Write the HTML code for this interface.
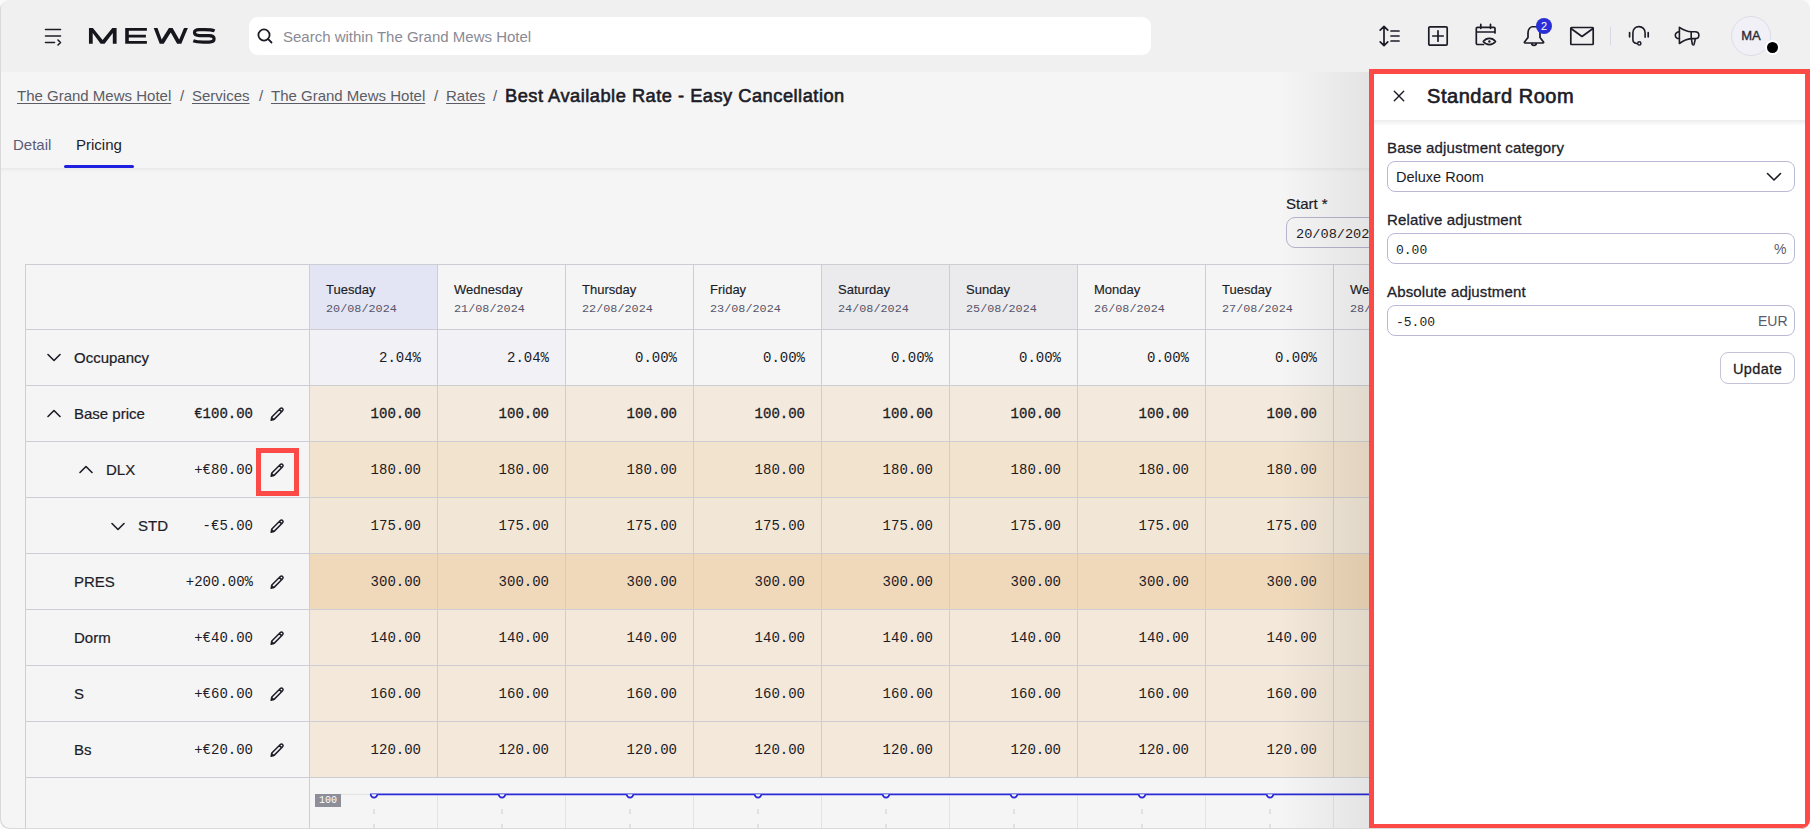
<!DOCTYPE html>
<html><head><meta charset="utf-8"><style>
*{box-sizing:border-box;margin:0;padding:0}
html,body{width:1810px;height:829px;overflow:hidden;background:#fafafa}
body{position:relative;font-family:"Liberation Sans",sans-serif;color:#1c1c27}
.a{position:absolute}
.mono{font-family:"Liberation Mono",monospace}
.frame{position:absolute;left:0;top:0;width:1810px;height:829px;background:#f0f0f0;border-radius:9px;overflow:hidden}
.fb{position:absolute;left:0;top:0;width:1810px;height:829px;border-radius:9px;box-shadow:inset 1px -1px 0 #d9d9d9;pointer-events:none}
.content{position:absolute;left:0;top:72px;width:1810px;height:757px;background:#f5f5f5}
.ico{position:absolute;fill:none;stroke:#1c1c27;stroke-width:1.6;stroke-linecap:round;stroke-linejoin:round}
.bc{position:absolute;top:86px;font-size:15px;color:#5c5c66;text-decoration:underline;text-underline-offset:2px;text-decoration-thickness:1px;white-space:nowrap;line-height:20px}
.sl{position:absolute;top:86px;font-size:15px;color:#5c5c66;line-height:20px}
.cell{position:absolute;height:56px}
.lbl{position:absolute;font-size:15px;line-height:18px;white-space:nowrap;-webkit-text-stroke:0.2px #1c1c27}
.num{position:absolute;font-family:"Liberation Mono",monospace;font-size:14px;line-height:18px;white-space:nowrap;text-align:right}
.vl{position:absolute;width:1px;background:#cdcdd3}
.hl{position:absolute;height:1px;background:#cdcdd3}
.dayn{position:absolute;font-size:13px;line-height:16px;white-space:nowrap;-webkit-text-stroke:0.15px #1c1c27}
.dayd{position:absolute;font-family:"Liberation Mono",monospace;font-size:11.8px;line-height:16px;color:#56566a;white-space:nowrap}
</style></head>
<body>
<div class="frame">
<svg class="ico" style="left:43px;top:27px" width="20" height="20" viewBox="0 0 20 20"><path d="M2.5 2.5h15M2.5 9h15M2.5 15.5h9M15 13l2.5 2.5L15 18"/></svg>
<svg class="a" style="left:88px;top:28px" width="130" height="16" viewBox="0 0 130 16"><g fill="#16161d">
<path d="M0.95 0H4.9L14.6 12.1L24.3 0H28.6V15.8H24.8V5L16.6 15.8H12.6L4.7 5V15.8H0.95Z"/>
<path d="M37.2 0H58.9V2.8H40.8V6.8H57.9V9.5H40.8V13.1H58.9V15.8H37.2Z"/>
<path d="M65.7 0H69.5L73.7 11.5L80.9 0H84.6L91.2 11.5L96 0H99.9L93.3 15.8H89.1L82.75 4.5L75.7 15.8H71.7Z"/>
</g><path d="M126.6 2.9C124.6 2 120.5 1.6 116.5 1.6H111.5C107.5 1.6 106.5 3 106.5 4.6C106.5 6.4 108 7.55 111.5 7.55H121C125 7.55 126.1 9 126.1 10.8C126.1 12.7 124.8 14.1 121 14.1H115.5C111 14.1 107.5 13.7 105.3 12.8" fill="none" stroke="#16161d" stroke-width="3.2"/></svg>
<div class="a" style="left:249px;top:17px;width:902px;height:38px;background:#fff;border-radius:9px"></div>
<svg class="ico" style="left:256px;top:27px" width="18" height="18" viewBox="0 0 18 18" style="stroke-width:1.8"><circle cx="8" cy="8" r="5.6" stroke-width="1.8"/><path d="M12.2 12.2l3.3 3.3" stroke-width="1.8"/></svg>
<div class="a" style="left:283px;top:28px;font-size:15px;line-height:18px;color:#8a8a94;white-space:nowrap">Search within The Grand Mews Hotel</div>
<svg class="ico" style="left:1378px;top:25px" width="24" height="22" viewBox="0 0 24 22"><path d="M6 1.5v19M2.2 5.2L6 1.4l3.8 3.8M2.2 16.8L6 20.6l3.8-3.8M13 6h8M13 11h8M13 16h8" stroke-width="1.7"/></svg>
<svg class="ico" style="left:1427px;top:25px" width="22" height="22" viewBox="0 0 22 22"><rect x="1.8" y="1.8" width="18.4" height="18.4" rx="1.2" stroke-width="1.7"/><path d="M11 5.8v10.4M5.8 11h10.4" stroke-width="1.7"/></svg>
<svg class="ico" style="left:1474px;top:23px" width="24" height="24" viewBox="0 0 24 24"><path d="M9.5 21.5H3.5a1.2 1.2 0 0 1-1.2-1.2V5.5a1.2 1.2 0 0 1 1.2-1.2h16.3a1.2 1.2 0 0 1 1.2 1.2v4.5M2.4 9h18.5M6.8 1.3v4M16.5 1.3v4" stroke-width="1.7"/><path d="M9.3 18.5c3.2-4.2 9-4.2 12.2 0c-3.2 4.2-9 4.2-12.2 0z" stroke-width="1.7"/><circle cx="15.4" cy="18.5" r="1.2" fill="#1c1c27" stroke="none"/></svg>
<svg class="ico" style="left:1522px;top:24px" width="24" height="24" viewBox="0 0 24 24"><path d="M12 2.5c-3.8 0-6 2.8-6 6.5v4.5l-3.5 4.6c-0.3 0.4 0 0.9 0.5 0.9h18c0.5 0 0.8-0.5 0.5-0.9L18 13.5V9c0-3.7-2.2-6.5-6-6.5zM9.7 19.2c0 1.2 1 2.2 2.3 2.2s2.3-1 2.3-2.2" stroke-width="1.7"/></svg>
<div class="a" style="left:1536px;top:18px;width:16px;height:16px;border-radius:8px;background:#2b2fd8;color:#fff;font-size:11px;line-height:16px;text-align:center;font-weight:400">2</div>
<svg class="ico" style="left:1569px;top:25px" width="26" height="22" viewBox="0 0 26 22"><rect x="1.8" y="2.5" width="22.4" height="17" rx="0.8" stroke-width="1.7"/><path d="M2 3.5l11 8 11-8" stroke-width="1.7"/></svg>
<div class="a" style="left:1610px;top:27px;width:1px;height:18px;background:#d8d8e4"></div>
<svg class="ico" style="left:1627px;top:24px" width="24" height="24" viewBox="0 0 24 24"><path d="M2.6 8.7v4.1M21.2 8.7v4.1" stroke-width="1.7"/><path d="M18.1 13.2V9C18.1 5.2 15.6 2.6 12 2.6S5.9 5.2 5.9 9V15.8C5.9 17.8 6.9 19 9.6 19.5" stroke-width="1.6"/><circle cx="12.3" cy="19.4" r="1.6" stroke-width="1.5"/></svg>
<svg class="ico" style="left:1674px;top:24px" width="26" height="24" viewBox="0 0 26 24"><path d="M5.4 7.8C3 7.8 1.3 9.3 1.3 11.15S3 14.5 5.4 14.5" stroke-width="1.6"/><path d="M5.4 3.3V19.5C8.5 17.2 12.5 14.8 17.2 14.6V7.7C12.5 7.5 8.5 5.3 5.4 3.3Z" stroke-width="1.6"/><path d="M17.2 7.7H21C23.3 7.7 24.9 9.3 24.9 11.15S23.3 14.6 21 14.6H17.2M17.4 14.8L18.3 20.2C18.5 21.2 19.8 21.2 20.1 20.2L21.3 15" stroke-width="1.6"/></svg>
<div class="a" style="left:1731px;top:16px;width:40px;height:40px;border-radius:20px;background:#f0f0f6;border:1px solid #dcdcea;font-size:13px;line-height:38px;text-align:center;color:#2a2a35;-webkit-text-stroke:0.35px #2a2a35">MA</div>
<div class="a" style="left:1765px;top:40px;width:15px;height:15px;border-radius:8px;background:#000;border:2px solid #fff"></div>
<div class="content">
</div>
<div class="bc" style="left:17px">The Grand Mews Hotel</div>
<div class="bc" style="left:192px">Services</div>
<div class="bc" style="left:271px">The Grand Mews Hotel</div>
<div class="bc" style="left:446px">Rates</div>
<div class="sl" style="left:180px">/</div>
<div class="sl" style="left:259px">/</div>
<div class="sl" style="left:434px">/</div>
<div class="sl" style="left:493px">/</div>
<div class="a" style="left:505px;top:85px;font-size:18.25px;line-height:22px;letter-spacing:0.5px;-webkit-text-stroke:0.6px #1c1c27;white-space:nowrap;color:#1c1c27">Best Available Rate - Easy Cancellation</div>
<div class="a" style="left:13px;top:136px;font-size:15px;line-height:18px;color:#5b5b78">Detail</div>
<div class="a" style="left:76px;top:136px;font-size:15px;line-height:18px;color:#1c1c27">Pricing</div>
<div class="a" style="left:1px;top:168px;width:1809px;height:4px;background:linear-gradient(#e9e9e9,rgba(245,245,245,0))"></div>
<div class="a" style="left:64px;top:165px;width:70px;height:3px;border-radius:2px;background:#1f1fe0"></div>
<div class="a" style="left:1286px;top:195px;font-size:15px;line-height:18px;color:#1c1c27;-webkit-text-stroke:0.2px #1c1c27">Start *</div>
<div class="a" style="left:1286px;top:217px;width:200px;height:31px;border:1px solid #b4b4cc;border-radius:9px"></div>
<div class="a mono" style="left:1296px;top:226px;font-size:13.6px;line-height:18px">20/08/2024</div>
<div class="a" style="left:309px;top:264px;width:128px;height:65px;background:#e4e5f4"></div>
<div class="a" style="left:821px;top:264px;width:128px;height:65px;background:#ebebee"></div>
<div class="a" style="left:949px;top:264px;width:128px;height:65px;background:#ebebee"></div>
<div class="a" style="left:309px;top:329px;width:128px;height:56px;background:#f1f1f6"></div>
<div class="a" style="left:437px;top:329px;width:128px;height:56px;background:#f1f1f6"></div>
<div class="a" style="left:309px;top:385px;width:1152px;height:56px;background:#f3eadd"></div>
<div class="a" style="left:309px;top:441px;width:1152px;height:56px;background:#f2e3ce"></div>
<div class="a" style="left:309px;top:497px;width:1152px;height:56px;background:#f2e7d7"></div>
<div class="a" style="left:309px;top:553px;width:1152px;height:56px;background:#f0d9bb"></div>
<div class="a" style="left:309px;top:609px;width:1152px;height:56px;background:#f3e8d9"></div>
<div class="a" style="left:309px;top:665px;width:1152px;height:56px;background:#f3e8d9"></div>
<div class="a" style="left:309px;top:721px;width:1152px;height:56px;background:#f3e8d9"></div>
<div class="dayn" style="left:326px;top:282px">Tuesday</div>
<div class="dayd" style="left:326px;top:301px">20/08/2024</div>
<div class="dayn" style="left:454px;top:282px">Wednesday</div>
<div class="dayd" style="left:454px;top:301px">21/08/2024</div>
<div class="dayn" style="left:582px;top:282px">Thursday</div>
<div class="dayd" style="left:582px;top:301px">22/08/2024</div>
<div class="dayn" style="left:710px;top:282px">Friday</div>
<div class="dayd" style="left:710px;top:301px">23/08/2024</div>
<div class="dayn" style="left:838px;top:282px">Saturday</div>
<div class="dayd" style="left:838px;top:301px">24/08/2024</div>
<div class="dayn" style="left:966px;top:282px">Sunday</div>
<div class="dayd" style="left:966px;top:301px">25/08/2024</div>
<div class="dayn" style="left:1094px;top:282px">Monday</div>
<div class="dayd" style="left:1094px;top:301px">26/08/2024</div>
<div class="dayn" style="left:1222px;top:282px">Tuesday</div>
<div class="dayd" style="left:1222px;top:301px">27/08/2024</div>
<div class="dayn" style="left:1350px;top:282px">Wednesday</div>
<div class="dayd" style="left:1350px;top:301px">28/08/2024</div>
<div class="num" style="left:341px;width:80px;top:349px">2.04%</div>
<div class="num" style="left:341px;width:80px;top:405px;-webkit-text-stroke:0.3px #1c1c27;">100.00</div>
<div class="num" style="left:341px;width:80px;top:461px;">180.00</div>
<div class="num" style="left:341px;width:80px;top:517px;">175.00</div>
<div class="num" style="left:341px;width:80px;top:573px;">300.00</div>
<div class="num" style="left:341px;width:80px;top:629px;">140.00</div>
<div class="num" style="left:341px;width:80px;top:685px;">160.00</div>
<div class="num" style="left:341px;width:80px;top:741px;">120.00</div>
<div class="num" style="left:469px;width:80px;top:349px">2.04%</div>
<div class="num" style="left:469px;width:80px;top:405px;-webkit-text-stroke:0.3px #1c1c27;">100.00</div>
<div class="num" style="left:469px;width:80px;top:461px;">180.00</div>
<div class="num" style="left:469px;width:80px;top:517px;">175.00</div>
<div class="num" style="left:469px;width:80px;top:573px;">300.00</div>
<div class="num" style="left:469px;width:80px;top:629px;">140.00</div>
<div class="num" style="left:469px;width:80px;top:685px;">160.00</div>
<div class="num" style="left:469px;width:80px;top:741px;">120.00</div>
<div class="num" style="left:597px;width:80px;top:349px">0.00%</div>
<div class="num" style="left:597px;width:80px;top:405px;-webkit-text-stroke:0.3px #1c1c27;">100.00</div>
<div class="num" style="left:597px;width:80px;top:461px;">180.00</div>
<div class="num" style="left:597px;width:80px;top:517px;">175.00</div>
<div class="num" style="left:597px;width:80px;top:573px;">300.00</div>
<div class="num" style="left:597px;width:80px;top:629px;">140.00</div>
<div class="num" style="left:597px;width:80px;top:685px;">160.00</div>
<div class="num" style="left:597px;width:80px;top:741px;">120.00</div>
<div class="num" style="left:725px;width:80px;top:349px">0.00%</div>
<div class="num" style="left:725px;width:80px;top:405px;-webkit-text-stroke:0.3px #1c1c27;">100.00</div>
<div class="num" style="left:725px;width:80px;top:461px;">180.00</div>
<div class="num" style="left:725px;width:80px;top:517px;">175.00</div>
<div class="num" style="left:725px;width:80px;top:573px;">300.00</div>
<div class="num" style="left:725px;width:80px;top:629px;">140.00</div>
<div class="num" style="left:725px;width:80px;top:685px;">160.00</div>
<div class="num" style="left:725px;width:80px;top:741px;">120.00</div>
<div class="num" style="left:853px;width:80px;top:349px">0.00%</div>
<div class="num" style="left:853px;width:80px;top:405px;-webkit-text-stroke:0.3px #1c1c27;">100.00</div>
<div class="num" style="left:853px;width:80px;top:461px;">180.00</div>
<div class="num" style="left:853px;width:80px;top:517px;">175.00</div>
<div class="num" style="left:853px;width:80px;top:573px;">300.00</div>
<div class="num" style="left:853px;width:80px;top:629px;">140.00</div>
<div class="num" style="left:853px;width:80px;top:685px;">160.00</div>
<div class="num" style="left:853px;width:80px;top:741px;">120.00</div>
<div class="num" style="left:981px;width:80px;top:349px">0.00%</div>
<div class="num" style="left:981px;width:80px;top:405px;-webkit-text-stroke:0.3px #1c1c27;">100.00</div>
<div class="num" style="left:981px;width:80px;top:461px;">180.00</div>
<div class="num" style="left:981px;width:80px;top:517px;">175.00</div>
<div class="num" style="left:981px;width:80px;top:573px;">300.00</div>
<div class="num" style="left:981px;width:80px;top:629px;">140.00</div>
<div class="num" style="left:981px;width:80px;top:685px;">160.00</div>
<div class="num" style="left:981px;width:80px;top:741px;">120.00</div>
<div class="num" style="left:1109px;width:80px;top:349px">0.00%</div>
<div class="num" style="left:1109px;width:80px;top:405px;-webkit-text-stroke:0.3px #1c1c27;">100.00</div>
<div class="num" style="left:1109px;width:80px;top:461px;">180.00</div>
<div class="num" style="left:1109px;width:80px;top:517px;">175.00</div>
<div class="num" style="left:1109px;width:80px;top:573px;">300.00</div>
<div class="num" style="left:1109px;width:80px;top:629px;">140.00</div>
<div class="num" style="left:1109px;width:80px;top:685px;">160.00</div>
<div class="num" style="left:1109px;width:80px;top:741px;">120.00</div>
<div class="num" style="left:1237px;width:80px;top:349px">0.00%</div>
<div class="num" style="left:1237px;width:80px;top:405px;-webkit-text-stroke:0.3px #1c1c27;">100.00</div>
<div class="num" style="left:1237px;width:80px;top:461px;">180.00</div>
<div class="num" style="left:1237px;width:80px;top:517px;">175.00</div>
<div class="num" style="left:1237px;width:80px;top:573px;">300.00</div>
<div class="num" style="left:1237px;width:80px;top:629px;">140.00</div>
<div class="num" style="left:1237px;width:80px;top:685px;">160.00</div>
<div class="num" style="left:1237px;width:80px;top:741px;">120.00</div>
<div class="num" style="left:1365px;width:80px;top:349px"></div>
<div class="num" style="left:1365px;width:80px;top:405px;-webkit-text-stroke:0.3px #1c1c27;">100.00</div>
<div class="num" style="left:1365px;width:80px;top:461px;">180.00</div>
<div class="num" style="left:1365px;width:80px;top:517px;">175.00</div>
<div class="num" style="left:1365px;width:80px;top:573px;">300.00</div>
<div class="num" style="left:1365px;width:80px;top:629px;">140.00</div>
<div class="num" style="left:1365px;width:80px;top:685px;">160.00</div>
<div class="num" style="left:1365px;width:80px;top:741px;">120.00</div>
<svg class="a" style="left:309px;top:778px" width="1060" height="51" viewBox="0 0 1060 51"><line x1="31" y1="16.3" x2="61" y2="16.3" stroke="#e2e2e2" stroke-width="1"/><line x1="128.5" y1="17" x2="128.5" y2="51" stroke="#e3e3e3" stroke-width="1"/><line x1="256.5" y1="17" x2="256.5" y2="51" stroke="#e3e3e3" stroke-width="1"/><line x1="384.5" y1="17" x2="384.5" y2="51" stroke="#e3e3e3" stroke-width="1"/><line x1="512.5" y1="17" x2="512.5" y2="51" stroke="#e3e3e3" stroke-width="1"/><line x1="640.5" y1="17" x2="640.5" y2="51" stroke="#e3e3e3" stroke-width="1"/><line x1="768.5" y1="17" x2="768.5" y2="51" stroke="#e3e3e3" stroke-width="1"/><line x1="896.5" y1="17" x2="896.5" y2="51" stroke="#e3e3e3" stroke-width="1"/><line x1="1024.5" y1="17" x2="1024.5" y2="51" stroke="#e3e3e3" stroke-width="1"/><line x1="65" y1="31" x2="65" y2="51" stroke="#dcdcdc" stroke-width="1.6" stroke-dasharray="5 10"/><line x1="193" y1="31" x2="193" y2="51" stroke="#dcdcdc" stroke-width="1.6" stroke-dasharray="5 10"/><line x1="321" y1="31" x2="321" y2="51" stroke="#dcdcdc" stroke-width="1.6" stroke-dasharray="5 10"/><line x1="449" y1="31" x2="449" y2="51" stroke="#dcdcdc" stroke-width="1.6" stroke-dasharray="5 10"/><line x1="577" y1="31" x2="577" y2="51" stroke="#dcdcdc" stroke-width="1.6" stroke-dasharray="5 10"/><line x1="705" y1="31" x2="705" y2="51" stroke="#dcdcdc" stroke-width="1.6" stroke-dasharray="5 10"/><line x1="833" y1="31" x2="833" y2="51" stroke="#dcdcdc" stroke-width="1.6" stroke-dasharray="5 10"/><line x1="961" y1="31" x2="961" y2="51" stroke="#dcdcdc" stroke-width="1.6" stroke-dasharray="5 10"/><line x1="1089" y1="31" x2="1089" y2="51" stroke="#dcdcdc" stroke-width="1.6" stroke-dasharray="5 10"/><defs><clipPath id="cc"><rect x="0" y="16.3" width="1060" height="40"/></clipPath></defs><line x1="61" y1="16.3" x2="1060" y2="16.3" stroke="#2a2ad6" stroke-width="1.8"/><g clip-path="url(#cc)"><circle cx="65" cy="16.3" r="3.3" fill="#f5f5f5" stroke="#2a2ad6" stroke-width="1.8"/><circle cx="193" cy="16.3" r="3.3" fill="#f5f5f5" stroke="#2a2ad6" stroke-width="1.8"/><circle cx="321" cy="16.3" r="3.3" fill="#f5f5f5" stroke="#2a2ad6" stroke-width="1.8"/><circle cx="449" cy="16.3" r="3.3" fill="#f5f5f5" stroke="#2a2ad6" stroke-width="1.8"/><circle cx="577" cy="16.3" r="3.3" fill="#f5f5f5" stroke="#2a2ad6" stroke-width="1.8"/><circle cx="705" cy="16.3" r="3.3" fill="#f5f5f5" stroke="#2a2ad6" stroke-width="1.8"/><circle cx="833" cy="16.3" r="3.3" fill="#f5f5f5" stroke="#2a2ad6" stroke-width="1.8"/><circle cx="961" cy="16.3" r="3.3" fill="#f5f5f5" stroke="#2a2ad6" stroke-width="1.8"/><circle cx="1089" cy="16.3" r="3.3" fill="#f5f5f5" stroke="#2a2ad6" stroke-width="1.8"/></g></svg>
<div class="a mono" style="left:315px;top:794px;width:26px;height:13px;background:#8e8e99;color:#fff;font-size:10px;line-height:13px;text-align:center">100</div>
<div class="vl" style="left:25px;top:264px;height:565px"></div>
<div class="vl" style="left:309px;top:264px;height:565px"></div>
<div class="vl" style="left:437px;top:264px;height:514px"></div>
<div class="vl" style="left:565px;top:264px;height:514px"></div>
<div class="vl" style="left:693px;top:264px;height:514px"></div>
<div class="vl" style="left:821px;top:264px;height:514px"></div>
<div class="vl" style="left:949px;top:264px;height:514px"></div>
<div class="vl" style="left:1077px;top:264px;height:514px"></div>
<div class="vl" style="left:1205px;top:264px;height:514px"></div>
<div class="vl" style="left:1333px;top:264px;height:514px"></div>
<div class="vl" style="left:1461px;top:264px;height:514px"></div>
<div class="hl" style="left:25px;top:264px;width:1440px"></div>
<div class="hl" style="left:25px;top:329px;width:1440px"></div>
<div class="hl" style="left:25px;top:385px;width:1440px"></div>
<div class="hl" style="left:25px;top:441px;width:1440px"></div>
<div class="hl" style="left:25px;top:497px;width:1440px"></div>
<div class="hl" style="left:25px;top:553px;width:1440px"></div>
<div class="hl" style="left:25px;top:609px;width:1440px"></div>
<div class="hl" style="left:25px;top:665px;width:1440px"></div>
<div class="hl" style="left:25px;top:721px;width:1440px"></div>
<div class="hl" style="left:25px;top:777px;width:1440px"></div>
<svg class="ico" style="left:47px;top:353px" width="14" height="9" viewBox="0 0 14 9"><path d="M1 1.5L7 7.5L13 1.5" stroke-width="1.6"/></svg>
<div class="lbl" style="left:74px;top:349px">Occupancy</div>
<svg class="ico" style="left:47px;top:409px" width="14" height="9" viewBox="0 0 14 9"><path d="M1 7.5L7 1.5L13 7.5" stroke-width="1.6"/></svg>
<div class="lbl" style="left:74px;top:405px">Base price</div>
<div class="num" style="left:152px;width:101px;top:405px;-webkit-text-stroke:0.3px #1c1c27;">€100.00</div>
<svg class="ico" style="left:269px;top:406px" width="16" height="16" viewBox="0 0 16 16"><path d="M2.2 14.2l0.6-3.2L11.3 2.5c0.8-0.8 1.6-0.8 2.3 0s0.8 1.5 0 2.3L5.1 13.4z M2.6 11.6l2 2 M10.4 3.6l2 2" stroke-width="1.5"/></svg>
<svg class="ico" style="left:79px;top:465px" width="14" height="9" viewBox="0 0 14 9"><path d="M1 7.5L7 1.5L13 7.5" stroke-width="1.6"/></svg>
<div class="lbl" style="left:106px;top:461px">DLX</div>
<div class="num" style="left:152px;width:101px;top:461px;">+€80.00</div>
<svg class="ico" style="left:269px;top:462px" width="16" height="16" viewBox="0 0 16 16"><path d="M2.2 14.2l0.6-3.2L11.3 2.5c0.8-0.8 1.6-0.8 2.3 0s0.8 1.5 0 2.3L5.1 13.4z M2.6 11.6l2 2 M10.4 3.6l2 2" stroke-width="1.5"/></svg>
<svg class="ico" style="left:111px;top:522px" width="14" height="9" viewBox="0 0 14 9"><path d="M1 1.5L7 7.5L13 1.5" stroke-width="1.6"/></svg>
<div class="lbl" style="left:138px;top:517px">STD</div>
<div class="num" style="left:152px;width:101px;top:517px;">-€5.00</div>
<svg class="ico" style="left:269px;top:518px" width="16" height="16" viewBox="0 0 16 16"><path d="M2.2 14.2l0.6-3.2L11.3 2.5c0.8-0.8 1.6-0.8 2.3 0s0.8 1.5 0 2.3L5.1 13.4z M2.6 11.6l2 2 M10.4 3.6l2 2" stroke-width="1.5"/></svg>
<div class="lbl" style="left:74px;top:573px">PRES</div>
<div class="num" style="left:152px;width:101px;top:573px;">+200.00%</div>
<svg class="ico" style="left:269px;top:574px" width="16" height="16" viewBox="0 0 16 16"><path d="M2.2 14.2l0.6-3.2L11.3 2.5c0.8-0.8 1.6-0.8 2.3 0s0.8 1.5 0 2.3L5.1 13.4z M2.6 11.6l2 2 M10.4 3.6l2 2" stroke-width="1.5"/></svg>
<div class="lbl" style="left:74px;top:629px">Dorm</div>
<div class="num" style="left:152px;width:101px;top:629px;">+€40.00</div>
<svg class="ico" style="left:269px;top:630px" width="16" height="16" viewBox="0 0 16 16"><path d="M2.2 14.2l0.6-3.2L11.3 2.5c0.8-0.8 1.6-0.8 2.3 0s0.8 1.5 0 2.3L5.1 13.4z M2.6 11.6l2 2 M10.4 3.6l2 2" stroke-width="1.5"/></svg>
<div class="lbl" style="left:74px;top:685px">S</div>
<div class="num" style="left:152px;width:101px;top:685px;">+€60.00</div>
<svg class="ico" style="left:269px;top:686px" width="16" height="16" viewBox="0 0 16 16"><path d="M2.2 14.2l0.6-3.2L11.3 2.5c0.8-0.8 1.6-0.8 2.3 0s0.8 1.5 0 2.3L5.1 13.4z M2.6 11.6l2 2 M10.4 3.6l2 2" stroke-width="1.5"/></svg>
<div class="lbl" style="left:74px;top:741px">Bs</div>
<div class="num" style="left:152px;width:101px;top:741px;">+€20.00</div>
<svg class="ico" style="left:269px;top:742px" width="16" height="16" viewBox="0 0 16 16"><path d="M2.2 14.2l0.6-3.2L11.3 2.5c0.8-0.8 1.6-0.8 2.3 0s0.8 1.5 0 2.3L5.1 13.4z M2.6 11.6l2 2 M10.4 3.6l2 2" stroke-width="1.5"/></svg>
<div class="a" style="left:256px;top:448px;width:43px;height:48px;border:5px solid #fc4a46"></div>
<div class="a" style="left:1279px;top:72px;width:90px;height:757px;background:linear-gradient(90deg,rgba(0,0,0,0),rgba(0,0,0,0.07))"></div>
<div class="a" style="left:1369px;top:69px;width:441px;height:760px;background:#fff;border:5px solid #fc4a46"></div>
<svg class="ico" style="left:1392px;top:89px" width="14" height="14" viewBox="0 0 14 14"><path d="M2.3 2.3l9.4 9.4M11.7 2.3L2.3 11.7" stroke-width="1.4"/></svg>
<div class="a" style="left:1427px;top:84px;font-size:20px;line-height:24px;letter-spacing:0.55px;-webkit-text-stroke:0.65px #1c1c27;white-space:nowrap">Standard Room</div>
<div class="a" style="left:1374px;top:120px;width:431px;height:6px;background:linear-gradient(#ececec,rgba(255,255,255,0))"></div>
<div class="a" style="left:1387px;top:139px;font-size:15px;line-height:18px;white-space:nowrap;color:#22222c;letter-spacing:0.15px;-webkit-text-stroke:0.3px #22222c">Base adjustment category</div>
<div class="a" style="left:1387px;top:161px;width:408px;height:31px;border:1px solid #b9b9d6;border-radius:8px"></div>
<div class="a" style="left:1396px;top:168px;font-size:14.5px;line-height:18px;white-space:nowrap">Deluxe Room</div>
<svg class="ico" style="left:1766px;top:172px" width="16" height="10" viewBox="0 0 16 10"><path d="M1.5 1.5L8 8L14.5 1.5" stroke-width="1.6"/></svg>
<div class="a" style="left:1387px;top:211px;font-size:15px;line-height:18px;white-space:nowrap;color:#22222c;letter-spacing:0.15px;-webkit-text-stroke:0.3px #22222c">Relative adjustment</div>
<div class="a" style="left:1387px;top:233px;width:408px;height:31px;border:1px solid #b9b9d6;border-radius:8px"></div>
<div class="a mono" style="left:1396px;top:242px;font-size:13px;line-height:18px">0.00</div>
<div class="a" style="left:1774px;top:240px;font-size:14px;line-height:18px;color:#5a5a6c">%</div>
<div class="a" style="left:1387px;top:283px;font-size:15px;line-height:18px;white-space:nowrap;color:#22222c;letter-spacing:0.15px;-webkit-text-stroke:0.3px #22222c">Absolute adjustment</div>
<div class="a" style="left:1387px;top:305px;width:408px;height:31px;border:1px solid #b9b9d6;border-radius:8px"></div>
<div class="a mono" style="left:1396px;top:314px;font-size:13px;line-height:18px">-5.00</div>
<div class="a" style="left:1758px;top:312px;font-size:14px;line-height:18px;color:#5a5a6c">EUR</div>
<div class="a" style="left:1720px;top:352px;width:75px;height:32px;border:1px solid #c4c4d8;border-radius:8px"></div>
<div class="a" style="left:1733px;top:360px;font-size:14.5px;line-height:18px;letter-spacing:0.4px;-webkit-text-stroke:0.3px #1c1c27;white-space:nowrap">Update</div>
<div class="fb"></div>
</div>
</body></html>
